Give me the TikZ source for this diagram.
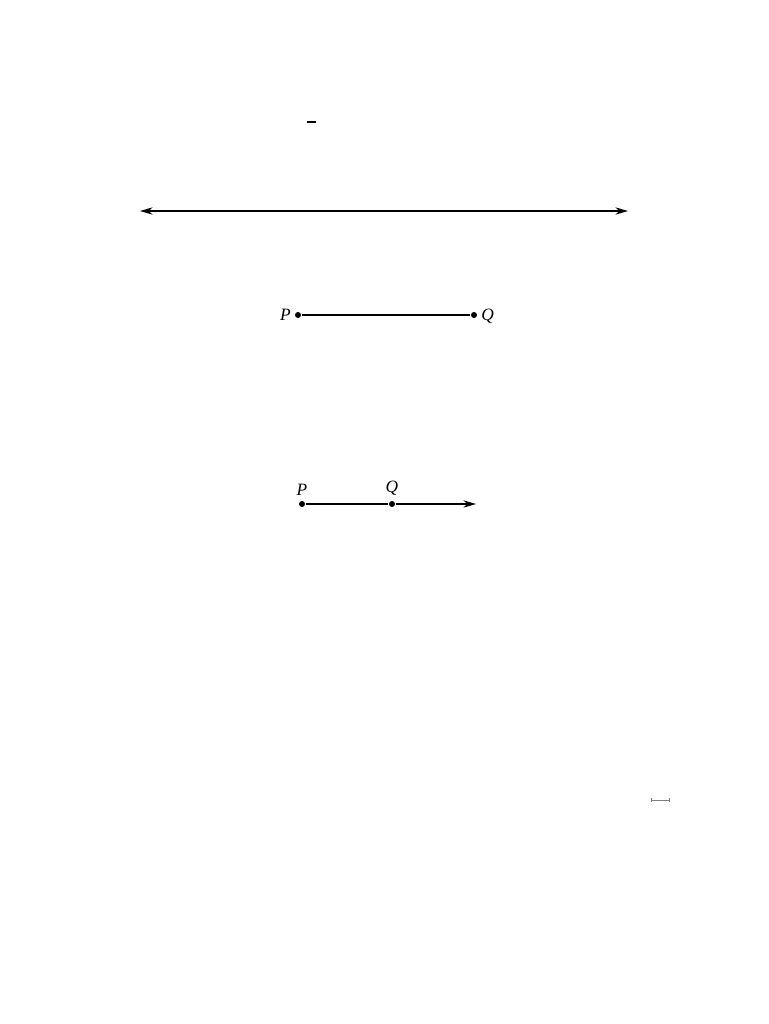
\documentclass[tikz,border=0pt]{standalone}
\usepackage{fontspec}
\setmainfont{Liberation Serif}
\usetikzlibrary{arrows.meta,positioning}
\tikzset{dot/.style={circle,fill=black,inner sep=0pt,minimum size=4.5pt},
  lbl/.style={font=\fontsize{13}{15}\selectfont\itshape,inner sep=1.5pt},
  ray/.style={-{Stealth[length=9.5pt,width=5.5pt]}},
  line/.style={{Stealth[length=9.5pt,width=5.5pt]}-{Stealth[length=9.5pt,width=5.5pt]}}}
\begin{document}
\begin{tikzpicture}[x=0.75pt,y=-0.75pt,line width=0.8pt]
    \useasboundingbox (0,0) rectangle (768,1024);
    % stray marks from the page
    \coordinate (b1) at (307,122); \coordinate (b2) at (316,122);
    \draw[line width=1.2pt] (b1) -- (b2);
    % the line
    \coordinate (l1) at (140,211); \coordinate (l2) at (628,211);
    \draw[line] (l1) -- (l2);
    % the segment PQ
    \node[dot] (sp) at (298,315) {}; \node[lbl,left=1pt of sp] (spl) {P};
    \node[dot] (sq) at (474,315) {}; \node[lbl,right=1pt of sq,yshift=-1pt] (sql) {Q};
    \draw (sp) -- (sq);
    % the ray PQ
    \node[dot] (rp) at (302,504) {}; \node[lbl,above=2pt of rp] (rpl) {P};
    \node[dot] (rq) at (392,504) {}; \node[lbl,above=2pt of rq] (rql) {Q};
    \coordinate (re) at (476,504);
    \draw (rp) -- (rq); \draw[ray] (rq) -- (re);
    % small mark lower right
    \coordinate (m1) at (651,800); \coordinate (m2) at (670,800);
    \draw[gray,line width=0.6pt,{Bar[width=3pt]}-{Bar[width=3pt]}] (m1) -- (m2);
\end{tikzpicture}
\end{document}
